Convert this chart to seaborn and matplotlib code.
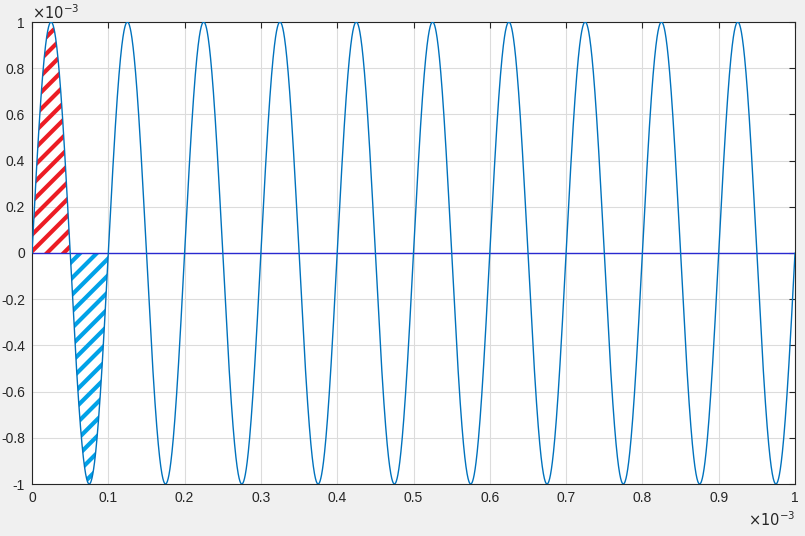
import numpy as np
import pandas as pd
import seaborn as sns
import matplotlib.pyplot as plt

# signal parameters (axes are in units of 1e-3)
amplitude = 1.0          # x10^-3
period = 0.1             # x10^-3
t_start, t_end = 0.0, 1.0
n_samples = 4001

# hatched areas: first positive and first negative half wave
pos_span = [0.0, 0.05]
neg_span = [0.05, 0.1]

x_ticks = [0, 0.1, 0.2, 0.3, 0.4, 0.5, 0.6, 0.7, 0.8, 0.9, 1]
y_ticks = [-1, -0.8, -0.6, -0.4, -0.2, 0, 0.2, 0.4, 0.6, 0.8, 1]

t = np.linspace(t_start, t_end, n_samples)
df = pd.DataFrame({'t': t, 'y': amplitude * np.sin(2 * np.pi * t / period)})

sns.set_style('white')
plt.rcParams['font.family'] = ['Liberation Sans', 'DejaVu Sans']
plt.rcParams['hatch.linewidth'] = 3.0

fig = plt.figure(figsize=(8.05, 5.36), dpi=100, facecolor='#f0f0f0')
ax = fig.add_axes([32 / 805, 1 - 484 / 536, 763 / 805, 462 / 536])
ax.set_facecolor('white')

# hatched half waves
m1 = (df.t >= pos_span[0]) & (df.t <= pos_span[1])
ax.fill_between(df.t[m1], 0, df.y[m1], facecolor='none', edgecolor='#ec1c24',
                hatch='//', linewidth=0, zorder=2)
m2 = (df.t >= neg_span[0]) & (df.t <= neg_span[1])
ax.fill_between(df.t[m2], 0, df.y[m2], facecolor='none', edgecolor='#00a2e8',
                hatch='//', linewidth=0, zorder=2)

sns.lineplot(data=df, x='t', y='y', color='#0072bd', linewidth=1.0, ax=ax, zorder=3)
ax.axhline(0, color='#2a2ad0', linewidth=1.0, zorder=2.5)

ax.set_xlim(t_start, t_end)
ax.set_ylim(-amplitude, amplitude)
ax.set_xticks(x_ticks)
ax.set_yticks(y_ticks)
ax.set_xticklabels([f'{v:g}' for v in x_ticks])
ax.set_yticklabels([f'{v:g}' for v in y_ticks])
ax.set_xlabel('')
ax.set_ylabel('')
ax.grid(True, color='#dcdcdc', linewidth=0.8)
ax.set_axisbelow(True)
ax.tick_params(direction='in', length=4, width=0.8, colors='#262626',
               labelsize=10, top=True, right=True, pad=5)
for s in ax.spines.values():
    s.set_color('#262626')
    s.set_linewidth(0.8)

fig.text(32 / 805, 1 - 13 / 536, r'$\times10^{-3}$', fontsize=10.5, color='#262626',
         ha='left', va='center')
fig.text(795 / 805, 1 - 520 / 536, r'$\times10^{-3}$', fontsize=10.5, color='#262626',
         ha='right', va='center')

fig.savefig('out.png', dpi=100, facecolor=fig.get_facecolor())
